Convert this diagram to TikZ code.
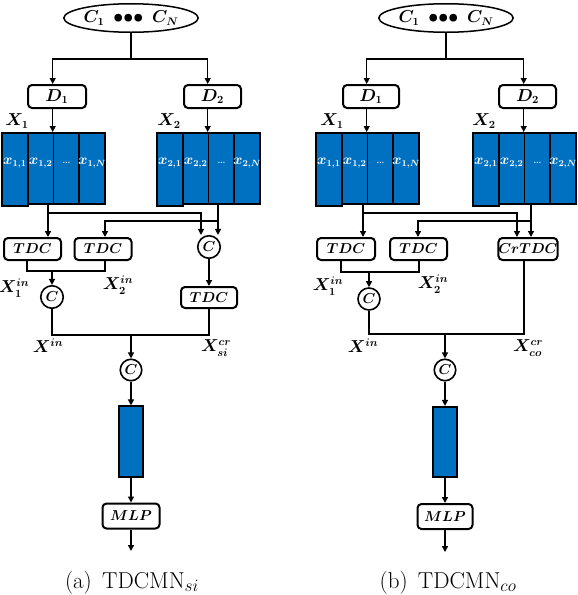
\documentclass[tikz,border=0pt]{standalone}
\usepackage{bm}
\usetikzlibrary{arrows.meta,shapes.geometric}
\definecolor{cellblue}{RGB}{0,112,192}
\newcommand{\lblfont}{\fontsize{16}{19}\selectfont}
\newcommand{\boxfont}{\fontsize{15}{18}\selectfont}
\newcommand{\fourcells}[3]{%
  \node[cell,minimum height=73.4pt] (#1a) at (#2+12.875,169.5) {};
  \node[cell] (#1b) at (#2+38.625,168.5) {};
  \node[cell] (#1c) at (#2+64.375,168.5) {};
  \node[cell] (#1d) at (#2+90.125,168.5) {};
  \node[celltxt] (#1ta) at (#2+12.875,163) {$\bm{x_{#3,1}}$};
  \node[celltxt] (#1tb) at (#2+38.625,163) {$\bm{x_{#3,2}}$};
  \node[celltxt] (#1tc) at (#2+64.375,163) {\ldots};
  \node[celltxt] (#1td) at (#2+90.125,163) {$\bm{x_{#3,N}}$};
}
\begin{document}
\begin{tikzpicture}[x=1pt,y=-1pt,
  ln/.style={line width=1.3pt},
  arr/.style={line width=1.3pt,-{Triangle[length=6pt,width=6pt]}},
  rbox/.style={draw,line width=2pt,rounded corners=4pt,inner sep=0pt,font=\boxfont},
  circ/.style={circle,draw,line width=1.6pt,inner sep=0pt,minimum size=21.5pt,font=\boxfont},
  cell/.style={draw,line width=1.6pt,fill=cellblue,inner sep=0pt,minimum width=25.75pt,minimum height=71.4pt},
  celltxt/.style={text=white,font=\fontsize{13.5}{15}\selectfont,inner sep=0pt},
  lab/.style={font=\lblfont,inner sep=0pt},
  oval/.style={ellipse,draw,line width=1.5pt,minimum width=108pt,minimum height=28.5pt,inner sep=0pt,font=\lblfont},
  captext/.style={font=\fontsize{23}{27}\selectfont,inner sep=0pt,anchor=base},
  bar/.style={draw,line width=1.6pt,fill=cellblue,inner sep=0pt,minimum width=24.5pt,minimum height=70.5pt},
]
\useasboundingbox (0,0) rectangle (578,595);

% ================= LEFT PANEL =================
\node[oval] (LE) at (131,18) {$\bm{C_1}$\hspace{9pt}$\bm{{\bullet}{\bullet}{\bullet}}$\hspace{9pt}$\bm{C_N}$};
\node[rbox,minimum width=58pt,minimum height=23pt,font=\lblfont] (LD1) at (57,96.5) {$\bm{D_1}$};
\node[rbox,minimum width=57pt,minimum height=23pt,font=\lblfont] (LD2) at (212.5,96.5) {$\bm{D_2}$};
\fourcells{Lb1}{2}{1}
\fourcells{Lb2}{157}{2}
\node[lab] (LX1) at (17,121) {$\bm{X_1}$};
\node[lab] (LX2) at (169,121) {$\bm{X_2}$};

\coordinate (LT) at (131,59);
\draw[ln] (LE.south) -- (LT);
\draw[arr] (LT) -| (LD1.north -| Lb1c.west);
\draw[arr] (LT) -| (LD2.north -| Lb2c.west);
\draw[arr] (LD1.south -| Lb1c.west) -- (Lb1c.north west);
\draw[arr] (LD2.south -| Lb2c.west) -- (Lb2c.north west);

\node[rbox,minimum width=57pt,minimum height=22pt] (LTDC1) at (32.5,249) {$\bm{TDC}$};
\node[rbox,minimum width=57pt,minimum height=22pt] (LTDC2) at (103,249) {$\bm{TDC}$};
\node[circ,minimum size=22.5pt] (LCr) at (209,247) {$\bm{C}$};
\node[circ,minimum size=22.5pt] (LC1) at (52,297) {$\bm{C}$};
\node[rbox,minimum width=56pt,minimum height=21pt] (LTDC3) at (209,297.5) {$\bm{TDC}$};
\node[lab] (LX1in) at (14,288) {$\bm{X_1^{in}}$};
\node[lab] (LX2in) at (118,285) {$\bm{X_2^{in}}$};

\coordinate (La) at (48,213);
\coordinate (Lh1) at (201,213);
\coordinate (Lb) at (218,221);
\coordinate (Lc) at (105,221);
\draw[arr] (Lb1b.south -| La) -- (LTDC1.north -| La);
\draw[arr] (La) -- (Lh1) -- (Lh1 |- LCr.north);
\draw[arr] (Lb2c.south -| Lb) -- (Lb |- LCr.north);
\draw[arr] (Lb) -- (Lc) -- (LTDC2.north -| Lc);

\coordinate (Ld) at (27,271);
\coordinate (Le) at (105,271);
\draw[ln] (LTDC1.south -| Ld) -- (Ld) -- (Le) -- (LTDC2.south -| Le);
\draw[arr] (LC1.north |- Ld) -- (LC1.north);
\draw[arr] (LCr) -- (LTDC3);

\coordinate (Lf) at (52,335);
\coordinate (Lg) at (209,335);
\coordinate (Lm) at (131,335);
\draw[ln] (LC1) -- (Lf) -- (Lg) -- (LTDC3);
\node[lab] (LXin) at (48,346) {$\bm{X^{in}}$};
\node[lab] (LXcr) at (216,348) {$\bm{X_{si}^{cr}}$};

\node[circ] (LCm) at (131,370) {$\bm{C}$};
\node[bar] (LB) at (131,441.5) {};
\node[rbox,minimum width=57pt,minimum height=25pt] (LMLP) at (131,516) {$\bm{MLP}$};
\coordinate (Lout) at (131,551);
\draw[arr] (Lm) -- (LCm);
\draw[arr] (LCm) -- (LB);
\draw[arr] (LB) -- (LMLP);
\draw[arr] (LMLP) -- (Lout);
\node[captext] (Lcap) at (132,588) {(a)\hspace{0.45em}TDCMN$_{si}$};

% ================= RIGHT PANEL =================
\node[oval] (RE) at (446,18) {$\bm{C_1}$\hspace{9pt}$\bm{{\bullet}{\bullet}{\bullet}}$\hspace{9pt}$\bm{C_N}$};
\node[rbox,minimum width=56pt,minimum height=23pt,font=\lblfont] (RD1) at (371,96.5) {$\bm{D_1}$};
\node[rbox,minimum width=57pt,minimum height=23pt,font=\lblfont] (RD2) at (527.5,96.5) {$\bm{D_2}$};
\fourcells{Rb1}{316}{1}
\fourcells{Rb2}{473}{2}
\node[lab] (RX1) at (332,121) {$\bm{X_1}$};
\node[lab] (RX2) at (484,121) {$\bm{X_2}$};

\coordinate (RT) at (446,59);
\draw[ln] (RE.south) -- (RT);
\draw[arr] (RT) -| (RD1.north -| Rb1c.west);
\draw[arr] (RT) -| (RD2.north -| Rb2c.west);
\draw[arr] (RD1.south -| Rb1c.west) -- (Rb1c.north west);
\draw[arr] (RD2.south -| Rb2c.west) -- (Rb2c.north west);

\node[rbox,minimum width=58pt,minimum height=22pt] (RTDC1) at (346,249) {$\bm{TDC}$};
\node[rbox,minimum width=57pt,minimum height=22pt] (RTDC2) at (418.5,249) {$\bm{TDC}$};
\node[rbox,minimum width=58pt,minimum height=22pt] (RCr) at (528,249) {$\bm{CrTDC}$};
\node[circ,minimum size=22pt] (RC1) at (369,299) {$\bm{C}$};
\node[lab] (RX1in) at (328,286) {$\bm{X_1^{in}}$};
\node[lab] (RX2in) at (433,284) {$\bm{X_2^{in}}$};

\coordinate (Ra) at (363,213);
\coordinate (Rh1) at (517,213);
\coordinate (Rb) at (531,221);
\coordinate (Rc) at (418,221);
\draw[arr] (Rb1b.south -| Ra) -- (RTDC1.north -| Ra);
\draw[arr] (Ra) -- (Rh1) -- (Rh1 |- RCr.north);
\draw[arr] (Rb2c.south -| Rb) -- (Rb |- RCr.north);
\draw[arr] (Rb) -- (Rc) -- (RTDC2.north -| Rc);

\coordinate (Rd) at (341,272);
\coordinate (Re) at (419,272);
\draw[ln] (RTDC1.south -| Rd) -- (Rd) -- (Re) -- (RTDC2.south -| Re);
\draw[arr] (RC1.north |- Rd) -- (RC1.north);

\coordinate (Rf) at (369,334);
\coordinate (Rg) at (524,334);
\coordinate (Rm) at (445,334);
\draw[ln] (RC1) -- (Rf) -- (Rg) -- (RCr.south -| Rg);
\node[lab] (RXin) at (363,346) {$\bm{X^{in}}$};
\node[lab] (RXcr) at (528,348) {$\bm{X_{co}^{cr}}$};

\node[circ] (RCm) at (445,370) {$\bm{C}$};
\node[bar] (RB) at (445,442) {};
\node[rbox,minimum width=55pt,minimum height=25pt] (RMLP) at (445,516.5) {$\bm{MLP}$};
\coordinate (Rout) at (445,552);
\draw[arr] (Rm) -- (RCm);
\draw[arr] (RCm) -- (RB);
\draw[arr] (RB) -- (RMLP);
\draw[arr] (RMLP) -- (Rout);
\node[captext] (Rcap) at (448,588) {(b)\hspace{0.45em}TDCMN$_{co}$};
\end{tikzpicture}
\end{document}
